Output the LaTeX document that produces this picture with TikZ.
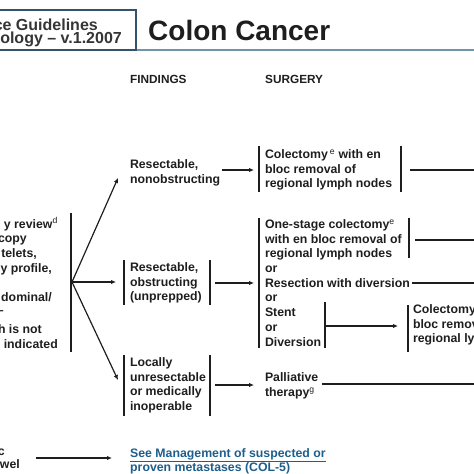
\documentclass[tikz,border=0pt]{standalone}
\usepackage{fontspec}
\setmainfont{Liberation Sans}
\usetikzlibrary{arrows.meta}
\definecolor{ink}{HTML}{1E1E1E}
\definecolor{hdrbox}{HTML}{34536B}
\definecolor{hdrline}{HTML}{6E97A3}
\definecolor{linkc}{HTML}{1D5E8C}
\begin{document}
\begin{tikzpicture}[x=1pt,y=-1pt,
  body/.style={font=\fontsize{12.3}{14.7}\selectfont\bfseries, text=ink, inner sep=0pt, outer sep=0pt, align=left, anchor=north west},
  cut/.style={font=\fontsize{12.3}{14.7}\selectfont\bfseries, text=ink, inner sep=0pt, anchor=base east},
  head/.style={font=\fontsize{11.8}{14}\selectfont\bfseries, text=ink, inner sep=0pt, anchor=base west},
  hdrtxt/.style={font=\fontsize{16}{19}\selectfont\bfseries, text=ink!90, inner sep=0pt, anchor=base east},
  titletxt/.style={font=\fontsize{28}{32}\selectfont\bfseries, text=ink, inner sep=0pt, anchor=base west},
  linktxt/.style={font=\fontsize{12.3}{14}\selectfont\bfseries, text=linkc, inner sep=0pt, align=left, anchor=north west},
  bar/.style={draw=ink, line width=1.8pt},
  conn/.style={draw=ink, line width=1.2pt},
  arr/.style={conn, -{Latex[length=5pt,width=4.5pt]}}
]
\useasboundingbox (0,0) rectangle (474,474);
\clip (0,0) rectangle (474,474);

% header
\draw[hdrline, line width=1.3pt] (0,50) -- (474,50);
\draw[hdrbox, line width=1.2pt] (-5,10) -- (136,10) -- (136,50) -- (-5,50);
\node[hdrtxt] (hg1) at (98,30) {ce Guidelines};
\node[hdrtxt] (hg2) at (122,43.5) {ology – v.1.2007};
\node[titletxt] (title) at (148,40) {Colon Cancer};

\node[head] (hfind) at (130,83) {FINDINGS};
\node[head] (hsurg) at (265,83) {SURGERY};

% left (cut) block
\node[cut] (l1) at (58,228) {y review\textsuperscript{\mdseries d}};
\node[cut] (l2) at (27,242.5) {copy};
\node[cut] (l3) at (37,257) {telets,};
\node[cut] (l4) at (52,272) {y profile,};
\node[cut] (l5) at (52,301) {dominal/};
\node[cut] (l6) at (4,314) {–};
\node[cut] (l7) at (42,333) {h is not};
\node[cut] (l8) at (58,348) {indicated};
\draw[bar] (71,213) -- (71,352);

% findings
\node[body] (f1) at (130,159.5) {Resectable,\\nonobstructing};
\node[body] (f2) at (130,262.5) {Resectable,\\obstructing\\(unprepped)};
\node[body] (f3) at (130,357.5) {Locally\\unresectable\\or medically\\inoperable};
\draw[bar] (124,260) -- (124,305);
\draw[bar] (210,260) -- (210,305);
\draw[bar] (124,355) -- (124,416);
\draw[bar] (210,355) -- (210,416);

% branch arrows
\coordinate (br) at (72,282);
\coordinate (a1) at (118,178);
\coordinate (a2) at (116,282);
\coordinate (a3) at (118,380);
\draw[arr] (br) -- (a1);
\draw[arr] (br) -- (a2);
\draw[arr] (br) -- (a3);

% surgery
\node[body] (s1) at (265,149.5) {Colectomy\,\textsuperscript{\mdseries e} with en\\bloc removal of\\regional lymph nodes};
\draw[bar] (259,146) -- (259,192);
\draw[bar] (401,146) -- (401,192);

\node[body] (s2) at (265,219.5) {One-stage colectomy\textsuperscript{\mdseries e}\\with en bloc removal of\\regional lymph nodes\\or\\Resection with diversion\\or\\Stent\\or\\Diversion};
\draw[bar] (259,218) -- (259,348);
\draw[bar] (409,218) -- (409,258);
\draw[bar] (325,302) -- (325,348);

\node[body] (s3) at (413,304.5) {Colectomy\,\textsuperscript{\mdseries e} with en\\bloc removal of\\regional lymph nodes};
\draw[bar] (408,305) -- (408,352);

\node[body] (pal) at (265,373) {Palliative\\therapy\textsuperscript{\mdseries g}};

% findings -> surgery
\coordinate (f1o) at (222,170);
\coordinate (s1i) at (254,170);
\coordinate (f2o) at (215,283);
\coordinate (s2i) at (254,283);
\coordinate (f3o) at (215,385);
\coordinate (pali) at (254,385);
\draw[arr] (f1o) -- (s1i);
\draw[arr] (f2o) -- (s2i);
\draw[arr] (f3o) -- (pali);

% outgoing lines
\coordinate (s1o) at (410,170);   \coordinate (e1) at (474,170);
\coordinate (s2o) at (415,240);   \coordinate (e2) at (474,240);
\coordinate (s2r) at (412,283);   \coordinate (e3) at (474,283);
\coordinate (palo) at (322,384);  \coordinate (e4) at (474,384);
\draw[conn] (s1o) -- (e1);
\draw[conn] (s2o) -- (e2);
\draw[conn] (s2r) -- (e3);
\draw[conn] (palo) -- (e4);
\coordinate (sto) at (325,326);
\coordinate (s3i) at (398,326);
\draw[arr] (sto) -- (s3i);

% bottom
\node[cut] (b1) at (5,455) {c};
\node[cut] (b2) at (20,468.5) {wel};
\node[linktxt] (lnk) at (130,448) {\underline{See Management of suspected or}\\\underline{proven metastases (COL-5)}};
\coordinate (b0) at (36,458);
\coordinate (bl) at (112,458);
\draw[arr] (b0) -- (bl);
\end{tikzpicture}
\end{document}
